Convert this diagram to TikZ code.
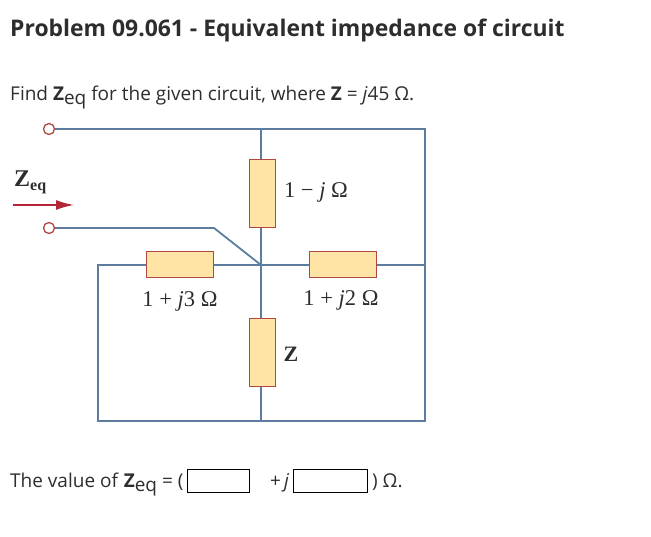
\documentclass[tikz,border=0pt]{standalone}
\usepackage{fontspec}
\usetikzlibrary{arrows.meta,backgrounds}
\setmainfont{Open Sans}
\newfontfamily\circuitfont{Liberation Serif}
\definecolor{wirecol}{RGB}{92,125,160}
\definecolor{rescol}{RGB}{255,228,165}
\definecolor{edgecol}{RGB}{176,72,66}
\definecolor{arrowcol}{RGB}{178,38,56}
\definecolor{txtcol}{RGB}{45,45,45}
\tikzset{
    wire/.style={draw=wirecol, line width=1.8pt},
    hres/.style={draw=edgecol, fill=rescol, line width=1pt, minimum width=67pt, minimum height=26pt, inner sep=0pt},
    vres/.style={draw=edgecol, fill=rescol, line width=1pt, minimum width=26pt, minimum height=68pt, inner sep=0pt},
    term/.style={circle, draw=edgecol, fill=white, line width=1.3pt, minimum size=11pt, inner sep=0pt},
    val/.style={font=\circuitfont\fontsize{22.5}{22.5}\selectfont, text=txtcol, inner sep=0pt},
    txt/.style={anchor=base west, inner sep=0pt, text=txtcol, font=\fontsize{19}{19}\selectfont},
    ansbox/.style={draw=black, line width=1pt, fill=white, minimum height=23pt, inner sep=0pt}
}
\begin{document}
\begin{tikzpicture}[x=1pt,y=-1pt]
    \useasboundingbox (0,0) rectangle (651,537);
    % heading and question
    \node[txt, font=\bfseries\fontsize{22.9}{22.9}\selectfont] (title) at (10,37) {Problem 09.061 - Equivalent impedance of circuit};
    \node[txt] (find) at (10,101) {Find \textbf{Z}\raisebox{-4pt}{eq} for the given circuit, where \textbf{Z} = \textit{j}45 Ω.};
    % corners and junctions
    \coordinate (tr) at (425,129);
    \coordinate (br) at (425,421);
    \coordinate (bl) at (98,421);
    \coordinate (ml) at (98,265);
    \coordinate (mr) at (425,265);
    \coordinate (mid) at (261,265);
    \coordinate (top) at (261,129);
    \coordinate (bot) at (261,421);
    \coordinate (bend) at (214,228);
    % terminals
    \node[term] (ta) at (49,129) {};
    \node[term] (tb) at (49,228) {};
    % elements
    \node[vres] (r1) at (262,194) {};
    \node[hres] (r2) at (179.5,265) {};
    \node[hres] (r3) at (343,265) {};
    \node[vres] (r4) at (262,353) {};
    % wires
    \begin{scope}[on background layer]
        \draw[wire] (ta) -- (tr) -- (br) -- (bl) -- (ml) -- (mr);
        \draw[wire] (top) -- (bot);
        \draw[wire] (tb) -- (bend) -- (mid);
    \end{scope}
    % labels
    \node[val, font=\circuitfont\bfseries\fontsize{24}{24}\selectfont, anchor=base west] (zeq) at (14,187) {Z\raisebox{-3.5pt}{\fontsize{16}{16}\selectfont eq}};
    \coordinate (arra) at (13,205);
    \coordinate (arrb) at (74,205);
    \draw[arrowcol, line width=1.8pt, -{Latex[length=18pt,width=10pt]}] (arra) -- (arrb);
    \node[val] (l1) at (316,192) {1 − \textit{j} Ω};
    \node[val] (l2) at (180,301) {1 + \textit{j}3 Ω};
    \node[val] (l3) at (341,300) {1 + \textit{j}2 Ω};
    \node[val, font=\circuitfont\bfseries\fontsize{22}{22}\selectfont] (l4) at (291,354) {Z};
    % answer line
    \node[txt] (val) at (10,487) {The value of \textbf{Z}\raisebox{-4pt}{eq} = (};
    \node[ansbox, minimum width=62pt] (ans1) at (218,481) {};
    \node[txt] (plus) at (270,487) {+\,\textit{j}};
    \node[ansbox, minimum width=74pt] (ans2) at (330,481) {};
    \node[txt] (unit) at (372,487) {) Ω.};
\end{tikzpicture}
\end{document}
